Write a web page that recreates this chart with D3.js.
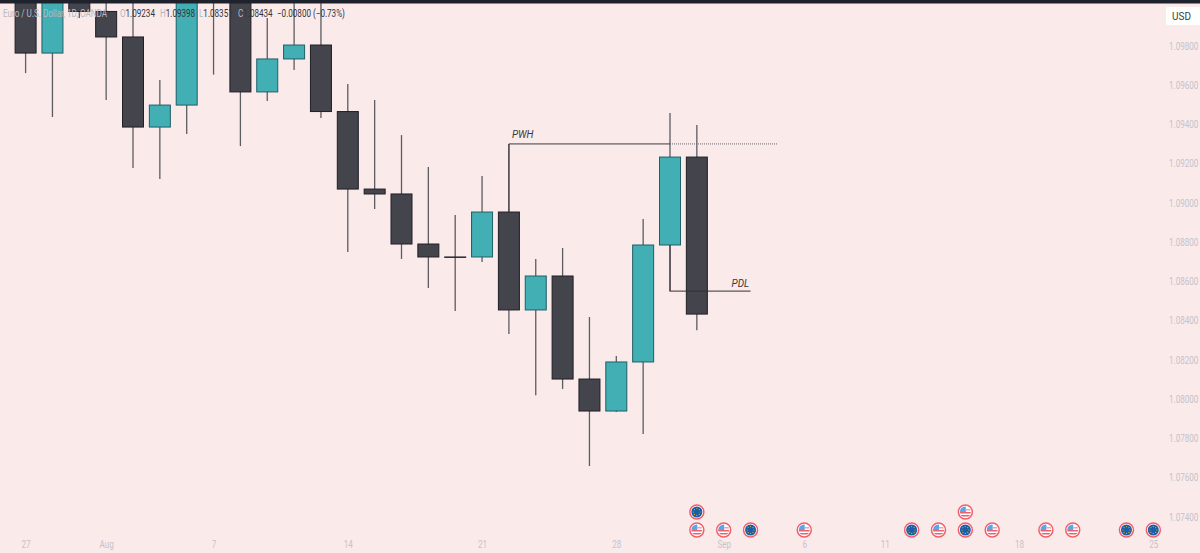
<!DOCTYPE html>
<html>
<head>
<meta charset="utf-8">
<script src="https://cdn.jsdelivr.net/npm/d3@7"></script>
<style>
    html, body { margin: 0; padding: 0; background: #fbeaea; overflow: hidden; }
    text { font-family: Roboto, "Noto Sans", sans-serif; }
</style>
</head>
<body>
<script>
// business days on the time axis
const days = [
    "07-27", "07-28", "07-31", "08-01", "08-02", "08-03", "08-04", "08-07", "08-08", "08-09", "08-10",
    "08-11", "08-14", "08-15", "08-16", "08-17", "08-18", "08-21", "08-22", "08-23", "08-24", "08-25",
    "08-28", "08-29", "08-30", "08-31", "09-01", "09-04", "09-05", "09-06", "09-07", "09-08", "09-11",
    "09-12", "09-13", "09-14", "09-15", "09-18", "09-19", "09-20", "09-21", "09-22", "09-25"
];
const tickDays = ["07-27", "08-01", "08-07", "08-14", "08-21", "08-28", "09-01", "09-06", "09-11", "09-18", "09-25"];
const tickLabels = ["27", "Aug", "7", "14", "21", "28", "Sep", "6", "11", "18", "25"];
const priceTicks = [1.098, 1.096, 1.094, 1.092, 1.09, 1.088, 1.086, 1.084, 1.082, 1.08, 1.078, 1.076, 1.074];

// OHLC, the first bars run past the top edge
const opens = [1.10136, 1.09764, 1.10187, 1.09976, 1.09846, 1.09387, 1.09499, 1.10289, 1.10187, 1.09566, 1.09734, 1.09805, 1.09466, 1.09071, 1.09046, 1.08791, 1.08725, 1.08725, 1.08954, 1.08455, 1.08628, 1.08103, 1.0794, 1.0819, 1.08786, 1.09234];
const highs = [1.10187, 1.10238, 1.10238, 1.10034, 1.10034, 1.09627, 1.10289, 1.10340, 1.10238, 1.09943, 1.10034, 1.10034, 1.09606, 1.09525, 1.09346, 1.09183, 1.08939, 1.09138, 1.09301, 1.08715, 1.08771, 1.08419, 1.0822, 1.08918, 1.09459, 1.09398];
const lows = [1.09662, 1.09438, 1.09943, 1.09525, 1.09178, 1.09122, 1.09352, 1.09654, 1.0929, 1.0952, 1.09678, 1.09433, 1.0875, 1.08969, 1.08715, 1.08567, 1.0845, 1.08699, 1.08332, 1.08021, 1.08052, 1.0766, 1.07935, 1.07823, 1.08551, 1.08351];
const closes = [1.09764, 1.10187, 1.09976, 1.09846, 1.09387, 1.09499, 1.10289, 1.10187, 1.09566, 1.09734, 1.09805, 1.09466, 1.09071, 1.09046, 1.08791, 1.08725, 1.08723, 1.08954, 1.08455, 1.08628, 1.08103, 1.0794, 1.0819, 1.08786, 1.09234, 1.08434];

const eventDays = ["08-31", "08-31", "09-01", "09-04", "09-06", "09-12", "09-13", "09-14", "09-14", "09-15", "09-19", "09-20", "09-22", "09-25"];
const eventKinds = ["us", "eu", "us", "eu", "us", "eu", "us", "eu", "us", "us", "us", "us", "eu", "eu"];

const legendName = "Euro / U.S. Dollar, 1D, OANDA";
const legendKeys = ["O", "H", "L", "C"];
const legendValues = ["1.09234", "1.09398", "1.08351", "1.08434"];
const legendChange = "\u22120.00800 (\u22120.73%)";

const pwhPrice = 1.09301, pwhFrom = "08-22", pwhTo = "08-30", pwhDotTo = "09-05";
const pdlPrice = 1.08551, pdlFrom = "08-30", pdlTo = "09-04";

const width = 1200, height = 553;
const bg = "#fbeaea";

const svg = d3.select("body").append("svg")
    .attr("width", width)
    .attr("height", height)
    .style("display", "block");

svg.append("rect").attr("width", width).attr("height", height).attr("fill", bg);

// the labels in the picture are narrower than Roboto, keep the height and pull the width in
const narrow = 0.81;
function squeeze(sel) {
    sel.attr("transform", function () {
        const tx = +this.getAttribute("x") || 0;
        return `translate(${tx * (1 - narrow)},0) scale(${narrow},1)`;
    });
}

const x = d3.scalePoint().domain(days).range([25.6, 1153.3]);
const y = d3.scaleLinear().domain([1.074, 1.098]).range([517, 46]);

// price axis
const yAxis = svg.append("g")
    .attr("transform", "translate(1169,0)")
    .call(d3.axisRight(y).tickValues(priceTicks).tickSize(0).tickPadding(0).tickFormat(d3.format(".5f")));
yAxis.select(".domain").remove();
yAxis.selectAll("text").attr("fill", "#c3c3cb").style("font-size", "10px").call(squeeze);

// time axis
const xAxis = svg.append("g")
    .attr("transform", "translate(0,541)")
    .call(d3.axisBottom(x).tickValues(tickDays).tickSize(0).tickPadding(0)
        .tickFormat(d => tickLabels[tickDays.indexOf(d)]));
xAxis.select(".domain").remove();
xAxis.selectAll("text").attr("fill", "#c3c3cb").style("font-size", "10px").call(squeeze);

// candles
const candles = opens.map((o, i) => ({ day: days[i], o: o, h: highs[i], l: lows[i], c: closes[i] }));
const barW = 21;

const bars = svg.append("g").selectAll("g")
    .data(candles)
    .enter()
    .append("g");

bars.append("line")
    .attr("x1", d => x(d.day))
    .attr("x2", d => x(d.day))
    .attr("y1", d => y(d.h))
    .attr("y2", d => y(d.l))
    .attr("stroke", "#5c5c62")
    .attr("stroke-width", 1.3);

bars.append("rect")
    .attr("x", d => x(d.day) - barW / 2)
    .attr("width", barW)
    .attr("y", d => y(Math.max(d.o, d.c)))
    .attr("height", d => Math.abs(y(d.o) - y(d.c)))
    .attr("fill", d => d.c > d.o ? "#41afb3" : "#44444c")
    .attr("stroke", d => d.c > d.o ? "#1f5f66" : "#1f1f26")
    .attr("stroke-width", 1);

// PWH / PDL drawings
const drawings = svg.append("g").attr("fill", "none");

drawings.append("path")
    .attr("d", d3.line()([[x(pwhFrom), y(opens[days.indexOf(pwhFrom)])], [x(pwhFrom), y(pwhPrice)], [x(pwhTo), y(pwhPrice)]]))
    .attr("stroke", "#3a3a40")
    .attr("stroke-width", 1);

drawings.append("line")
    .attr("x1", x(pwhTo)).attr("x2", x(pwhDotTo))
    .attr("y1", y(pwhPrice)).attr("y2", y(pwhPrice))
    .attr("stroke", "#6a6a70")
    .attr("stroke-width", 1)
    .attr("stroke-dasharray", "1 1");

drawings.append("path")
    .attr("d", d3.line()([[x(pdlFrom), y(opens[days.indexOf(pdlFrom)])], [x(pdlFrom), y(pdlPrice)], [x(pdlTo), y(pdlPrice)]]))
    .attr("stroke", "#2f2f35")
    .attr("stroke-opacity", 0.8)
    .attr("stroke-width", 1.2);

svg.append("text")
    .attr("x", x(pwhFrom) + 3).attr("y", y(pwhPrice) - 6)
    .attr("fill", "#3a3a40")
    .style("font-size", "10px").style("font-style", "italic")
    .text("PWH");

svg.append("text")
    .attr("x", x(pdlTo) - 19).attr("y", y(pdlPrice) - 4)
    .attr("fill", "#3a3a40")
    .style("font-size", "10px").style("font-style", "italic")
    .text("PDL");

// economic event flags, a second event on the same day sits above the first
const defs = svg.append("defs");
defs.append("clipPath").attr("id", "flagClip").append("circle").attr("r", 5.5);

const seen = {};
eventDays.forEach((day, i) => {
    const row = seen[day] || 0;
    seen[day] = row + 1;
    const kind = eventKinds[i];
    const flag = svg.append("g").attr("transform", `translate(${x(day)},${530 - row * 18})`);

    flag.append("circle").attr("r", 7).attr("fill", "#fff").attr("stroke", "#f0606c").attr("stroke-width", 1.5);

    if (kind === "eu") {
        flag.append("circle").attr("r", 5.5).attr("fill", "#1a5da8");
        d3.range(8).forEach(k => {
            const a = k / 8 * 2 * Math.PI;
            flag.append("circle")
                .attr("cx", 3.4 * Math.cos(a)).attr("cy", 3.4 * Math.sin(a))
                .attr("r", 0.6).attr("fill", "#c9b23c");
        });
    } else {
        const c = flag.append("g").attr("clip-path", "url(#flagClip)");
        c.append("rect").attr("x", -6).attr("y", -6).attr("width", 12).attr("height", 12).attr("fill", "#fff");
        c.append("rect").attr("x", -6).attr("y", 0).attr("width", 12).attr("height", 1.5).attr("fill", "#f0606c");
        c.append("rect").attr("x", -6).attr("y", 3).attr("width", 12).attr("height", 1.5).attr("fill", "#f0606c");
        c.append("rect").attr("x", -6).attr("y", -6).attr("width", 6.5).attr("height", 6).attr("fill", "#5aa6ea");
        c.append("rect").attr("x", 0.5).attr("y", -3).attr("width", 6).attr("height", 1.5).attr("fill", "#f4a0a6");
    }
});

// top strip and legend
svg.append("rect").attr("width", width).attr("height", 3.5).attr("fill", "#1e222d");

const legend = svg.append("g").style("font-size", "10px");
legend.append("text").attr("x", 3).attr("y", 17).attr("fill", "#b6b9c2").text(legendName);

const legendKeyX = [120, 160, 199, 238];
legendKeys.forEach((k, i) => {
    const t = legend.append("text").attr("x", legendKeyX[i]).attr("y", 17);
    t.append("tspan").attr("fill", "#b6b9c2").text(k);
    t.append("tspan").attr("fill", "#33343a").text(legendValues[i]);
});
legend.append("text").attr("x", 277).attr("y", 17).attr("fill", "#33343a").text(legendChange);
legend.selectAll("text").call(squeeze);

// currency badge
svg.append("rect").attr("x", 1166).attr("y", 7).attr("width", 36).attr("height", 18).attr("rx", 2).attr("fill", "#fff");
svg.append("text").attr("x", 1172).attr("y", 19.5).attr("fill", "#3a3b42").style("font-size", "10px").text("USD");
</script>
</body>
</html>
